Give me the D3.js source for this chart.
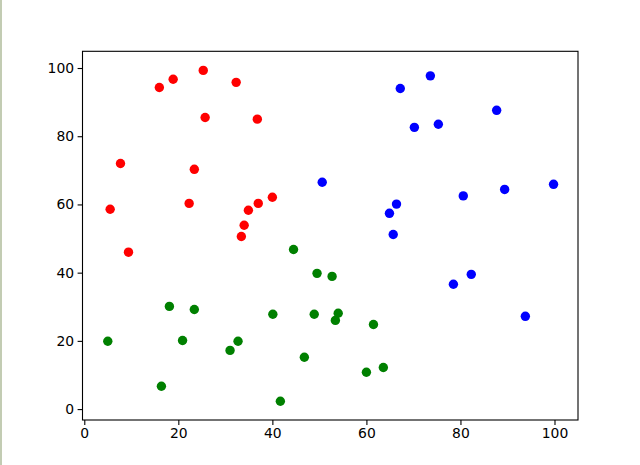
<!DOCTYPE html>
<html><head><meta charset="utf-8">
<script src="https://cdn.jsdelivr.net/npm/d3@7"></script>
<style>body{margin:0;background:#fff;overflow:hidden}svg{display:block}</style>
</head><body>
<script>
const redX = [15.96,18.9,25.3,32.3,25.7,36.8,7.7,23.4,5.5,22.3,40.0,37.0,34.9,34.0,33.4,9.4];
const redY = [94.3,96.7,99.3,95.8,85.5,85.0,72.0,70.3,58.6,60.3,62.1,60.3,58.3,53.9,50.6,46.0];
const blueX = [73.6,67.2,87.7,70.2,75.3,50.6,99.8,89.4,80.6,66.4,64.9,65.7,78.5,82.3,93.8];
const blueY = [97.7,94.0,87.6,82.6,83.5,66.5,65.9,64.4,62.5,60.1,57.4,51.2,36.6,39.5,27.2];
const greenX = [5.0,16.4,18.1,20.9,23.4,31.0,32.7,40.1,41.7,44.5,46.8,48.9,49.5,52.7,54.0,53.4,61.5,60.0,63.6];
const greenY = [19.9,6.7,30.1,20.1,29.2,17.2,19.9,27.8,2.3,46.8,15.2,27.8,39.8,38.9,28.1,26.0,24.8,10.8,12.2];
const xTicks = [0,20,40,60,80,100];
const yTicks = [0,20,40,60,80,100];
const series = [
  {xs: redX, ys: redY, color: "#ff0000"},
  {xs: blueX, ys: blueY, color: "#0000ff"},
  {xs: greenX, ys: greenY, color: "#008000"}
];

const W = 640, H = 465;
const L = 82.5, R = 578, T = 51.3, B = 420;
const svg = d3.select("body").append("svg").attr("width", W).attr("height", H);
svg.append("line").attr("x1",1).attr("x2",1).attr("y1",0).attr("y2",H)
  .attr("stroke","#9aaa80").attr("stroke-width",1.2);

const x = d3.scaleLinear().domain([-0.38, 105.0]).range([L, R]);
const y = d3.scaleLinear().domain([-3.2, 104.9]).range([B, T]);

const font = "DejaVu Sans, sans-serif";
const xAxis = svg.append("g").attr("transform", `translate(0,${B})`)
  .call(d3.axisBottom(x).tickValues(xTicks).tickSize(4.9).tickPadding(3.5).tickFormat(d3.format("d")));
const yAxis = svg.append("g").attr("transform", `translate(${L},0)`)
  .call(d3.axisLeft(y).tickValues(yTicks).tickSize(4.9).tickPadding(3.5).tickFormat(d3.format("d")));
[xAxis, yAxis].forEach(a => {
  a.select(".domain").remove();
  a.selectAll("line").attr("stroke", "#000").attr("stroke-width", 1.1);
  a.selectAll("text").attr("fill", "#000").style("font-family", font).style("font-size", "13.9px");
});

series.forEach(s => {
  svg.append("g").selectAll("circle").data(s.xs.map((v, i) => [v, s.ys[i]])).join("circle")
    .attr("cx", d => x(d[0])).attr("cy", d => y(d[1])).attr("r", 4.7).attr("fill", s.color);
});

svg.append("rect").attr("x", L).attr("y", T).attr("width", R - L).attr("height", B - T)
  .attr("fill", "none").attr("stroke", "#000").attr("stroke-width", 1.1);
</script>
</body></html>
